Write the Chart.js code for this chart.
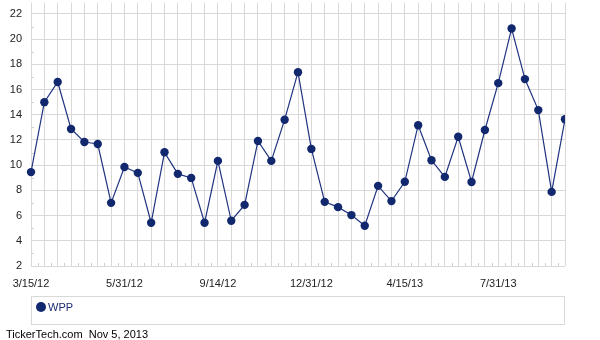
<!DOCTYPE html>
<html>
<head>
<meta charset="utf-8">
<script src="https://cdn.jsdelivr.net/npm/chart.js@4.4.1/dist/chart.umd.min.js"></script>
<style>
  html, body { margin: 0; padding: 0; background: #ffffff; }
  #wrap { position: relative; width: 600px; height: 340px; overflow: hidden; font-family: "Liberation Sans", Arial, sans-serif; }
  #chart { position: absolute; left: 0; top: -13px; }
  #legend { position: absolute; left: 31px; top: 296px; width: 532px; height: 27px; border: 1px solid #d9d9d9; box-sizing: content-box; }
  #legend .dot { position: absolute; left: 4px; top: 5px; width: 10px; height: 10px; border-radius: 50%; background: #12286e; }
  #legend .lbl { position: absolute; left: 16px; top: 3px; font-size: 11px; color: #1b2d72; line-height: 14px; }
  #footer { position: absolute; left: 6px; top: 327px; font-size: 11px; color: #000; line-height: 14px; white-space: pre; }
</style>
</head>
<body>
<div id="wrap">
  <canvas id="chart" width="600" height="353"></canvas>
  <div id="legend"><span class="dot"></span><span class="lbl">WPP</span></div>
  <div id="footer">TickerTech.com  Nov 5, 2013</div>
</div>
<script>
// ---- data ----
const seriesName = 'WPP';
const categories = [
  '3/15/12', '', '', '', '', '', '',
  '5/31/12', '', '', '', '', '', '',
  '9/14/12', '', '', '', '', '', '',
  '12/31/12', '', '', '', '', '', '',
  '4/15/13', '', '', '', '', '', '',
  '7/31/13', '', '', '', '', ''
];
const values = [
  9.45, 15.0, 16.6, 12.87, 11.84, 11.68, 7.01,
  9.86, 9.39, 5.43, 11.02, 9.31, 8.99, 5.43,
  10.34, 5.59, 6.85, 11.92, 10.34, 13.61, 17.38,
  11.29, 7.09, 6.67, 6.04, 5.19, 8.36, 7.15,
  8.68, 13.17, 10.39, 9.07, 12.25, 8.67, 12.79,
  16.51, 20.84, 16.83, 14.37, 7.88, 13.64
];
const yTickValues = [2, 4, 6, 8, 10, 12, 14, 16, 18, 20, 22];
const yMin = 2;
const yMax = 22.9;

const gridColor = '#d9d9d9';
const lineColor = '#1f3380';
const pointColor = '#12286e';

const minorTicks = {
  id: 'minorTicks',
  afterDatasetsDraw(chart) {
    const ctx = chart.ctx;
    const x = chart.scales.x, y = chart.scales.y;
    const area = chart.chartArea;
    ctx.save();
    ctx.strokeStyle = '#cfcfcf';
    ctx.lineWidth = 1;
    ctx.beginPath();
    for (let v = yMin + 1; v < yMax; v += 2) {
      const py = Math.round(y.getPixelForValue(v)) + 0.5;
      ctx.moveTo(area.left, py);
      ctx.lineTo(area.left + 3, py);
    }
    for (let i = 0; i < categories.length - 1; i++) {
      const px = Math.round((x.getPixelForValue(i) + x.getPixelForValue(i + 1)) / 2) + 0.5;
      ctx.moveTo(px, area.bottom);
      ctx.lineTo(px, area.bottom - 3);
    }
    ctx.stroke();
    ctx.restore();
  }
};

new Chart(document.getElementById('chart'), {
  type: 'line',
  data: {
    labels: categories,
    datasets: [{
      label: seriesName,
      data: values,
      borderColor: lineColor,
      borderWidth: 1.2,
      backgroundColor: pointColor,
      pointBackgroundColor: pointColor,
      pointBorderWidth: 0,
      pointRadius: 4.2,
      tension: 0,
      fill: false,
      clip: { left: false, top: false, right: 0, bottom: false }
    }]
  },
  options: {
    responsive: false,
    animation: false,
    events: [],
    layout: { padding: { left: 0, right: 35, top: 1, bottom: 0 } },
    plugins: { legend: { display: false }, tooltip: { enabled: false } },
    scales: {
      x: {
        type: 'category',
        offset: false,
        grid: { color: gridColor, lineWidth: 1, drawTicks: false },
        border: { display: false },
        ticks: {
          autoSkip: false,
          maxRotation: 0,
          minRotation: 0,
          padding: 11,
          color: '#222',
          font: { family: '"Liberation Sans", Arial, sans-serif', size: 11 }
        },
        afterFit(scale) { scale.height = 74; }
      },
      y: {
        min: yMin,
        max: yMax,
        grid: { color: gridColor, lineWidth: 1, drawTicks: false },
        border: { display: false },
        afterBuildTicks(scale) { scale.ticks = yTickValues.map(v => ({ value: v })); },
        ticks: {
          padding: 9,
          color: '#222',
          font: { family: '"Liberation Sans", Arial, sans-serif', size: 11 }
        },
        afterFit(scale) { scale.width = 31; }
      }
    }
  },
  plugins: [minorTicks]
});
</script>
</body>
</html>
